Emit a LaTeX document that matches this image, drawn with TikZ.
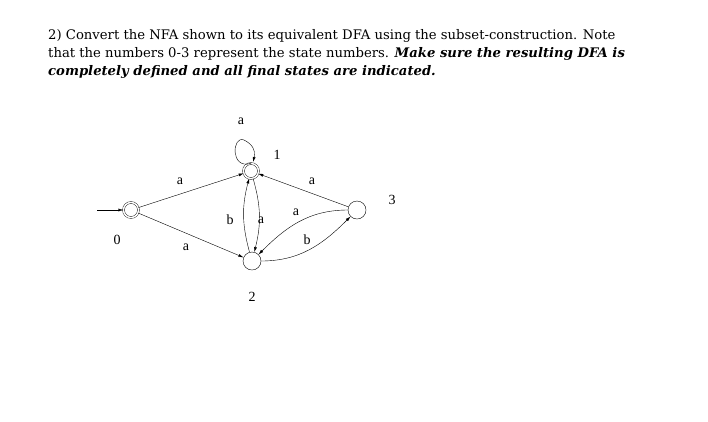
\documentclass[tikz,border=0pt]{standalone}
\usepackage{fontspec}
\setmainfont{Liberation Serif}
\newfontfamily\hdfont{DejaVu Serif}
\usetikzlibrary{arrows.meta}
\begin{document}
\begin{tikzpicture}[x=1pt,y=-1pt,
  st/.style={circle,draw,minimum size=18pt,inner sep=0pt},
  acc/.style={st,double,double distance=1.5pt,minimum size=15pt},
  lab/.style={font=\fontsize{14}{14}\selectfont},
  ed/.style={-{Latex[length=5pt,width=3pt]},thin},
  hd/.style={anchor=base west,font=\hdfont\fontsize{13.2}{14}\selectfont,inner sep=0pt}]
\useasboundingbox (0,0) rectangle (708,421);
\node[hd] (h1) at (48,39) {2) Convert the NFA shown to its equivalent DFA using the subset-construction. Note};
\node[hd] (h2) at (48,57) {that the numbers 0-3 represent the state numbers. \textbf{\textit{Make sure the resulting DFA is}}};
\node[hd] (h3) at (48,75) {\textbf{\textit{completely defined and all final states are indicated.}}};
\node[acc] (q0) at (131,210) {};
\node[acc] (q1) at (251,171) {};
\node[st] (q2) at (252,261) {};
\node[st] (q3) at (357,210) {};
\coordinate (s) at (97,210);
\draw[ed] (s) -- (q0);
\draw[ed] (q0) -- (q1);
\draw[ed] (q0) -- (q2);
\draw[ed] (q2) to[bend left=15] (q1);
\draw[ed] (q1) to[bend left=15] (q2);
\draw[ed] (q3) -- (q1);
\draw[ed] (q3) to[out=180,in=45] (q2);
\draw[ed] (q2) to[out=0,in=-135] (q3);
\draw[ed] (q1.north) .. controls (230,170) and (232,135) .. (244,140) .. controls (252,144) and (256,150) .. (253,162);
\node[lab] (l0) at (241,121) {a};
\node[lab] (l1) at (277,155) {1};
\node[lab] (l2) at (180,181) {a};
\node[lab] (l3) at (186,247) {a};
\node[lab] (l4) at (230,220) {b};
\node[lab] (l5) at (261,220) {a};
\node[lab] (l6) at (312,181) {a};
\node[lab] (l7) at (296,212) {a};
\node[lab] (l8) at (307,240) {b};
\node[lab] (l9) at (392,200) {3};
\node[lab] (l10) at (117,240) {0};
\node[lab] (l11) at (252,297) {2};
\end{tikzpicture}
\end{document}
